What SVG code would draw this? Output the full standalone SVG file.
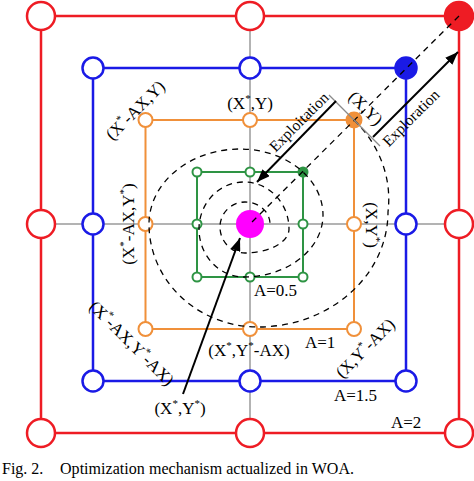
<svg xmlns="http://www.w3.org/2000/svg" width="474" height="481" viewBox="0 0 474 481">
<style>
.grid{stroke:#9a9a9a;stroke-width:1.5;fill:none}
.red{stroke:#ee1c24;stroke-width:2.5;fill:#fff}
.blue{stroke:#1a1ae6;stroke-width:2.5;fill:#fff}
.orange{stroke:#f0903a;stroke-width:2;fill:#fff}
.green{stroke:#2e9444;stroke-width:2;fill:#fff}
.sq{fill:none}
.dash{stroke:#000;stroke-width:1.3;fill:none;stroke-dasharray:6 5}
.arr{stroke:#000;stroke-width:2;fill:none;marker-end:url(#ah)}
text{font-family:"Liberation Serif","Times New Roman",serif;font-size:17px;fill:#000}
.sm{font-size:15.5px}
.sup{font-size:11px}
.cap{font-size:16px}
</style>
<defs>
<marker id="ah" markerUnits="userSpaceOnUse" markerWidth="14" markerHeight="10" refX="13" refY="5" orient="auto">
<path d="M0,0 L13,5 L0,10 z" fill="#000"/>
</marker>
</defs>
<g id="axes">
<line class="grid" x1="41" y1="224" x2="459" y2="224"/>
<line class="grid" x1="250" y1="16" x2="250" y2="433"/>
</g>
<g id="squares">
<rect class="red sq" x="41" y="16" width="418" height="417"/>
<rect class="blue sq" x="93" y="68" width="313" height="313"/>
<rect class="orange sq" x="145.5" y="120" width="208.5" height="209"/>
<rect class="green sq" x="197" y="172" width="106" height="105"/>
</g>
<g id="red-nodes" class="red">
<circle cx="41" cy="16" r="14"/><circle cx="250" cy="16" r="14"/><circle cx="459" cy="16" r="14" fill="#ee1c24"/>
<circle cx="41" cy="224" r="14"/><circle cx="459" cy="224" r="14"/>
<circle cx="41" cy="433" r="14"/><circle cx="250" cy="433" r="14"/><circle cx="459" cy="433" r="14"/>
</g>
<g id="blue-nodes" class="blue">
<circle cx="93" cy="68" r="10.5"/><circle cx="250" cy="68" r="10.5"/><circle cx="406" cy="68" r="10.5" fill="#1a1ae6"/>
<circle cx="93" cy="224" r="10.5"/><circle cx="406" cy="224" r="10.5"/>
<circle cx="93" cy="381" r="10.5"/><circle cx="250" cy="381" r="10.5"/><circle cx="406" cy="381" r="10.5"/>
</g>
<g id="orange-nodes" class="orange">
<circle cx="145.5" cy="120" r="7"/><circle cx="250" cy="120" r="7"/><circle cx="354" cy="120" r="7.5" fill="#f0903a"/>
<circle cx="145.5" cy="224" r="7"/><circle cx="354" cy="224" r="7"/>
<circle cx="145.5" cy="329" r="7"/><circle cx="250" cy="329" r="7"/><circle cx="354" cy="329" r="7"/>
</g>
<g id="green-nodes" class="green">
<circle cx="197" cy="172" r="4.5"/><circle cx="250" cy="172" r="4.5"/><circle cx="303" cy="172" r="4.5" fill="#2e9444"/>
<circle cx="197" cy="224" r="4.5"/><circle cx="303" cy="224" r="4.5"/>
<circle cx="197" cy="277" r="4.5"/><circle cx="250" cy="277" r="4.5"/><circle cx="303" cy="277" r="4.5"/>
</g>
<g id="prey">
<circle cx="250" cy="224" r="14" fill="#ff00ff"/>
</g>
<g id="connectors">
<path class="dash" d="M354,120 A134 118 0 0 1 388 212 A130 115 0 0 1 258 327 A109 103 0 0 1 149 224 A91 75 0 0 1 240 149 A83 66 0 0 1 323 215 A79 62 0 0 1 244 277 A45 48 0 0 1 199 229 A45 47 0 0 1 244 182 A45 47 0 0 1 289 229 A44 24 0 0 1 245 253 A25 26 0 0 1 220 227 A25 25 0 0 1 245 202 A25 22 0 0 1 270 224"/>
<line class="dash" x1="459" y1="16" x2="250" y2="224"/>
<line x1="329" y1="95" x2="380" y2="146" stroke="#8a8a8a" stroke-width="1.2"/>
<line class="arr" x1="336" y1="101" x2="257" y2="182"/>
<line class="arr" x1="373" y1="137" x2="458" y2="52"/>
<line class="arr" x1="183" y1="394" x2="240" y2="238"/>
</g>
<g id="labels">
<text x="250" y="109" text-anchor="middle">(X<tspan class="sup" dy="-7">*</tspan><tspan dy="7">,Y)</tspan></text>
<text transform="translate(135,110) rotate(-45)" x="0" y="6" text-anchor="middle">(X<tspan class="sup" dy="-7">*</tspan><tspan dy="7">-AX,Y)</tspan></text>
<text transform="translate(128,224) rotate(-90)" x="0" y="6" text-anchor="middle">(X<tspan class="sup" dy="-7">*</tspan><tspan dy="7">-AX,Y</tspan><tspan class="sup" dy="-7">*</tspan><tspan dy="7">)</tspan></text>
<text transform="translate(132,343) rotate(45)" x="0" y="6" text-anchor="middle">(X<tspan class="sup" dy="-7">*</tspan><tspan dy="7">-AX,Y</tspan><tspan class="sup" dy="-7">*</tspan><tspan dy="7">-AX)</tspan></text>
<text x="249" y="356" text-anchor="middle">(X<tspan class="sup" dy="-7">*</tspan><tspan dy="7">,Y</tspan><tspan class="sup" dy="-7">*</tspan><tspan dy="7">-AX)</tspan></text>
<text transform="translate(365,348) rotate(-45)" x="0" y="6" text-anchor="middle">(X,Y<tspan class="sup" dy="-7">*</tspan><tspan dy="7">-AX)</tspan></text>
<text transform="translate(372,225) rotate(90)" x="0" y="6" text-anchor="middle">(X,Y<tspan class="sup" dy="-7">*</tspan><tspan dy="7">)</tspan></text>
<text transform="translate(366,108) rotate(45)" x="0" y="6" text-anchor="middle">(X,Y)</text>
<text x="180" y="414" text-anchor="middle">(X<tspan class="sup" dy="-7">*</tspan><tspan dy="7">,Y</tspan><tspan class="sup" dy="-7">*</tspan><tspan dy="7">)</tspan></text>
<text class="sm" transform="translate(299,122) rotate(-45)" x="0" y="5" text-anchor="middle">Exploitation</text>
<text class="sm" transform="translate(411,118) rotate(-45)" x="0" y="5" text-anchor="middle">Exploration</text>
<text x="254" y="296">A=0.5</text>
<text x="305" y="348">A=1</text>
<text x="334" y="401">A=1.5</text>
<text x="391" y="428">A=2</text>
<text class="cap" x="2" y="474">Fig. 2.</text>
<text class="cap" x="60" y="474" textLength="294">Optimization mechanism actualized in WOA.</text>
</g>
</svg>
